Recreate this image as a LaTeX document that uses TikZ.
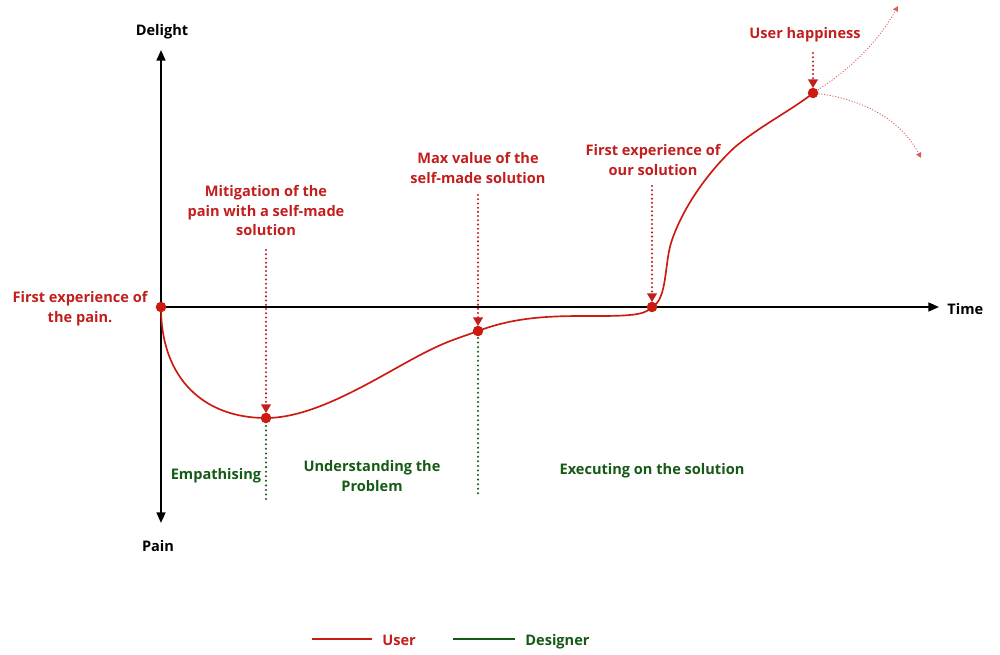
\documentclass[tikz,border=0pt]{standalone}
\usepackage{fontspec}
\setmainfont{Open Sans}
\usetikzlibrary{arrows.meta}
\definecolor{ured}{HTML}{CC1A10}
\definecolor{tred}{HTML}{C21E1E}
\definecolor{dgreen}{HTML}{155A15}
\tikzset{
  lbl/.style={font=\fontsize{8.3pt}{11.2pt}\selectfont\bfseries, align=center, inner sep=0pt, yshift=-1pt},
  redlbl/.style={lbl, text=tred},
  greenlbl/.style={lbl, text=dgreen},
  blacklbl/.style={lbl, text=black},
  axis/.style={line width=1.1pt, -{Triangle[length=6pt,width=5pt]}},
  userline/.style={ured, line width=0.95pt},
  pointer/.style={tred, line width=1.3pt, line cap=round, dash pattern=on 0pt off 2.4pt, -{Triangle[length=5pt,width=5.5pt,line cap=butt]}, shorten >=2.8pt},
  phase/.style={dgreen, line width=1.3pt, line cap=round, dash pattern=on 0pt off 2.6pt},
  futurepath/.style={ured!70, line width=0.5pt, dash pattern=on 0.6pt off 1pt, -{Triangle[length=3pt,width=3pt]}},
  pt/.style={circle, fill=ured, inner sep=0pt, minimum size=6pt},
}
\begin{document}
\begin{tikzpicture}[x=0.02cm,y=-0.02cm]
\useasboundingbox (0,0) rectangle (1000,655);
% points
\coordinate (O) at (161,307);
\coordinate (ytop) at (161,50);
\coordinate (ybot) at (161,523);
\coordinate (xend) at (939,307);
\coordinate (min) at (266,418);
\coordinate (mid) at (430,350);
\coordinate (maxv) at (478,331);
\coordinate (flat) at (600,316);
\coordinate (first) at (652,307);
\coordinate (kink) at (672,240);
\coordinate (upper) at (735,147);
\coordinate (happy) at (813,93);
% axes
\draw[axis] (O) -- (ytop);
\draw[axis] (O) -- (ybot);
\draw[axis] (O) -- (xend);
\node[blacklbl] (delight) at (162,30) {Delight};
\node[blacklbl] (pain) at (158,544) {Pain};
\node[blacklbl, anchor=west] (time) at (947,307) {Time};
% green phase lines
\coordinate (g1a) at (266,426);
\coordinate (g1b) at (266,500);
\coordinate (g2a) at (478,338);
\coordinate (g2b) at (478,495);
\draw[phase] (g1a) -- (g1b);
\draw[phase] (g2a) -- (g2b);
% user curve
\draw[userline] (O) .. controls (161,380) and (205,418) .. (min)
  .. controls (320,418) and (385,372) .. (mid)
  .. controls (450,340) and (465,336) .. (maxv)
  .. controls (520,315) and (560,316) .. (flat)
  .. controls (640,316) and (646,313) .. (first)
  .. controls (668,299) and (664,262) .. (kink)
  .. controls (684,205) and (710,170) .. (upper)
  .. controls (760,126) and (795,108) .. (happy);
% future paths
\coordinate (fut1) at (898,6);
\coordinate (fut2) at (921,158);
\draw[futurepath] (happy) .. controls (850,70) and (878,42) .. (fut1);
\draw[futurepath] (happy) .. controls (860,98) and (900,118) .. (fut2);
% pointers
\coordinate (p1) at (266,250);
\coordinate (p2) at (478,195);
\coordinate (p3) at (652,186);
\coordinate (p4) at (813,53);
\draw[pointer] (p1) -- (min);
\draw[pointer] (p2) -- (maxv);
\draw[pointer] (p3) -- (first);
\draw[pointer] (p4) -- (happy);
% dots
\foreach \p in {O,min,maxv,first,happy} \node[pt] at (\p) {};
% red labels
\node[redlbl] (l0) at (80,307) {First experience of\\the pain.};
\node[redlbl] (l1) at (266,209) {Mitigation of the\\pain with a self-made\\solution};
\node[redlbl] (l2) at (478,166) {Max value of the\\self-made solution};
\node[redlbl] (l3) at (653,158) {First experience of\\our solution};
\node[redlbl] (l4) at (805,33) {User happiness};
% green labels
\node[greenlbl] (e1) at (216,474) {Empathising};
\node[greenlbl] (e2) at (372,474) {Understanding the\\Problem};
\node[greenlbl] (e3) at (652,469) {Executing on the solution};
% legend
\coordinate (lu1) at (312,639);
\coordinate (lu2) at (372,639);
\coordinate (lg1) at (453,639);
\coordinate (lg2) at (515,639);
\draw[ured, line width=0.9pt] (lu1) -- (lu2);
\draw[dgreen, line width=0.9pt] (lg1) -- (lg2);
\node[redlbl, anchor=west] (lu) at (382,639) {User};
\node[greenlbl, anchor=west] (lg) at (525,640) {Designer};
\end{tikzpicture}
\end{document}
